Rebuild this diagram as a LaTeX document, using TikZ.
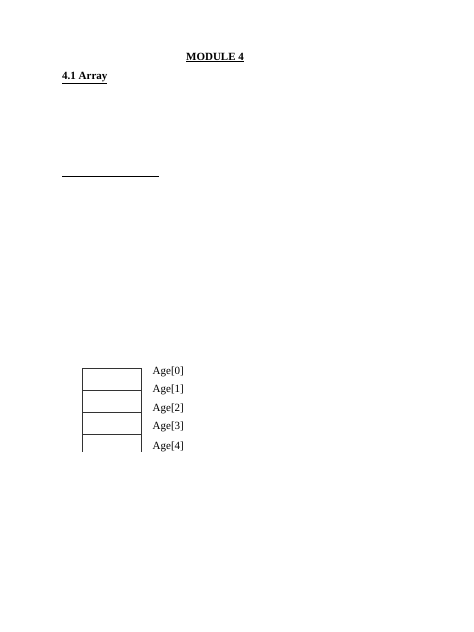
\documentclass[tikz,border=0pt]{standalone}
\usepackage{fontspec}
\setmainfont{Liberation Serif}
\begin{document}
\begin{tikzpicture}[x=1pt,y=-1pt,
  heading/.style={font=\fontsize{11}{13}\selectfont\bfseries, inner sep=0pt, anchor=base},
  lbl/.style={font=\fontsize{11}{13}\selectfont, inner sep=0pt, anchor=west},
  cell/.style={line width=0.7pt, draw=black!80}]
\useasboundingbox (0,0) rectangle (474,632);
\node[heading] (title) at (215,60) {\underline{MODULE 4}};
\node[heading, anchor=base west] (sec) at (62,79) {\underline{4.1 Array}};
\draw[line width=1pt] (62,176.5) coordinate (r1) -- (159,176.5) coordinate (r2);
% array cells
\draw[cell] (82,451.5) -- (82,368.5) -- (141.5,368.5) -- (141.5,451.5);
\draw[cell] (82,390.5) -- (141.5,390.5);
\draw[cell] (82,412.5) -- (141.5,412.5);
\draw[cell] (82,434.5) -- (141.5,434.5);
\node[lbl] (a0) at (152.5,371.5) {Age[0]};
\node[lbl] (a1) at (152.5,390) {Age[1]};
\node[lbl] (a2) at (152.5,409) {Age[2]};
\node[lbl] (a3) at (152.5,427) {Age[3]};
\node[lbl] (a4) at (152.5,446.5) {Age[4]};
\end{tikzpicture}
\end{document}
